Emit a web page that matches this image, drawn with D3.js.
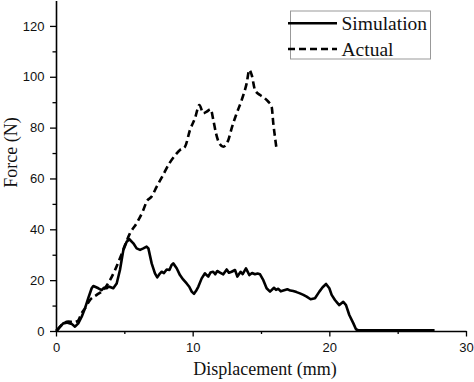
<!DOCTYPE html>
<html>
<head>
<meta charset="utf-8">
<script src="https://cdn.jsdelivr.net/npm/d3@7"></script>
<style>
  html, body { margin: 0; padding: 0; background: #fff; }
  svg { display: block; }
</style>
</head>
<body>
<svg id="chart" width="474" height="382"></svg>
<script>
// ---- data ----
const simX = [0,0.3,0.53,0.78,1.15,1.39,1.63,1.88,2.12,2.36,2.61,2.73,2.9,3.1,3.34,3.5,3.71,3.85,4.0,4.19,4.44,4.68,4.93,5.17,5.37,5.66,5.9,6.15,6.39,6.63,6.76,7.0,7.24,7.41,7.6,7.73,7.9,8.1,8.3,8.46,8.58,8.83,9.07,9.3,9.56,9.75,9.93,10.1,10.25,10.41,10.66,10.9,11.02,11.14,11.3,11.5,11.65,11.8,12.0,12.24,12.49,12.65,12.85,13.1,13.27,13.51,13.66,13.9,14.15,14.35,14.56,14.75,14.93,15.17,15.41,15.66,15.95,16.1,16.27,16.45,16.63,16.93,17.15,17.36,17.6,17.85,18.1,18.34,18.63,18.95,19.27,19.51,19.76,20.0,20.17,20.41,20.6,20.73,21.02,21.22,21.46,21.76,21.95,22.1,27.7];
const simY = [0,1.7,3.0,3.3,2.8,1.7,3.0,5.6,8.9,12.9,16.8,17.7,17.3,16.8,16.1,17.0,16.8,17.5,17.2,16.8,18.7,24,31.9,35.1,36.1,34.5,32.5,31.9,32.5,33.2,32.5,26.6,22.7,21.1,22.6,23.3,22.8,24.2,24.0,26,26.6,24.7,22,20.3,18.7,17.4,15.5,14.6,15.8,17.4,20.7,22.7,22.0,21.4,23.0,23.3,22.3,23.6,23,22.3,24.2,22.9,23.3,24,21.4,23.3,22.4,24.6,22,22.8,22.3,22.6,22.3,20,16.8,15.5,17,16.2,16.6,15.6,15.9,16.4,15.9,15.7,15.3,14.8,14.2,13.5,12.5,12.9,15.5,17.2,18.5,16.8,14.2,12.2,11.0,10.2,11.5,10.2,6.3,3,0.7,0.3,0.3];

const actX = [0.1,0.5,0.9,1.3,1.6,1.88,2.12,2.49,2.98,3.46,3.95,4.32,4.68,5.05,5.41,5.9,6.39,6.63,7.0,7.37,7.8,8.3,8.7,9.07,9.44,9.8,10.17,10.49,10.78,11.03,11.32,11.51,11.71,11.95,12.24,12.61,12.85,13.22,13.59,13.95,14.15,14.32,14.56,14.93,15.29,15.53,15.78,15.9,16.02,16.15];
const actY = [0.3,2.8,3.7,3.5,4.0,7.0,8.9,12.2,14.2,16.1,20,24,28.6,33.8,38.4,42.4,47.6,50.9,52.9,56.8,61,66,69,71.2,72.5,79,83.7,88.9,85.6,86.3,87.2,83,77.7,73.8,72.5,75.1,79.7,85.6,90.9,97.4,102.7,100.7,94.8,92.8,91.5,90.2,88.2,81.7,76.4,71.2];

const xTicks = [0, 10, 20, 30];
const xMinor = [5, 15, 25];
const yTicks = [0, 20, 40, 60, 80, 100, 120];
const yMinor = [10, 30, 50, 70, 90, 110];
const seriesNames = ["Simulation", "Actual"];
const xLabel = "Displacement (mm)";
const yLabel = "Force (N)";

// ---- layout ----
const svg = d3.select("#chart");
const x = d3.scaleLinear().domain([0, 30]).range([56, 466]);
const y = d3.scaleLinear().domain([0, 130]).range([331, 0.5]);

const tickFont = "'Liberation Sans', Arial, sans-serif";
const serif = "'Liberation Serif', 'Times New Roman', serif";

// minor ticks
svg.append("g").attr("transform", `translate(0,${y(0)})`)
  .call(d3.axisBottom(x).tickValues(xMinor).tickSize(3).tickFormat(""))
  .call(g => g.select(".domain").remove())
  .selectAll("line").attr("stroke", "#000").attr("stroke-width", 1.3);
svg.append("g").attr("transform", `translate(${x(0)},0)`)
  .call(d3.axisLeft(y).tickValues(yMinor).tickSize(3.5).tickFormat(""))
  .call(g => g.select(".domain").remove())
  .selectAll("line").attr("stroke", "#000").attr("stroke-width", 1.3);

// x axis
const gx = svg.append("g").attr("transform", `translate(0,${y(0)})`)
  .call(d3.axisBottom(x).tickValues(xTicks).tickSize(5.5).tickSizeOuter(0).tickPadding(6.5).tickFormat(d3.format("d")));
gx.select(".domain").attr("stroke", "#000").attr("stroke-width", 1.6);
gx.selectAll(".tick line").attr("stroke", "#000").attr("stroke-width", 1.3);
gx.selectAll("text").attr("font-family", tickFont).attr("font-size", 13).attr("fill", "#111");

// y axis
const gy = svg.append("g").attr("transform", `translate(${x(0)},0)`)
  .call(d3.axisLeft(y).tickValues(yTicks).tickSize(6).tickSizeOuter(0).tickPadding(5.5).tickFormat(d3.format("d")));
gy.select(".domain").attr("stroke", "#000").attr("stroke-width", 1.6);
gy.selectAll(".tick line").attr("stroke", "#000").attr("stroke-width", 1.3);
gy.selectAll("text").attr("font-family", tickFont).attr("font-size", 13).attr("fill", "#111");

// axis labels
svg.append("text").attr("x", 265).attr("y", 375).attr("text-anchor", "middle")
  .attr("font-family", serif).attr("font-size", 18).attr("fill", "#111").text(xLabel);
svg.append("text").attr("transform", "translate(16.5,152.5) rotate(-90)").attr("text-anchor", "middle")
  .attr("font-family", serif).attr("font-size", 18).attr("fill", "#111").text(yLabel);

// lines
const simData = simX.map((d, i) => [d, simY[i]]);
const actData = actX.map((d, i) => [d, actY[i]]);
const line = d3.line().x(d => x(d[0])).y(d => y(d[1]));
const lineSmooth = d3.line().x(d => x(d[0])).y(d => y(d[1])).curve(d3.curveMonotoneX);

svg.append("path").datum(actData).attr("d", lineSmooth)
  .attr("fill", "none").attr("stroke", "#000").attr("stroke-width", 2.6)
  .attr("stroke-dasharray", "7,4");
svg.append("path").datum(simData).attr("d", line)
  .attr("fill", "none").attr("stroke", "#000").attr("stroke-width", 2.6)
  .attr("stroke-linejoin", "round");

// legend
const lg = svg.append("g");
lg.append("rect").attr("x", 290.5).attr("y", 11).attr("width", 140).attr("height", 48)
  .attr("fill", "none").attr("stroke", "#999").attr("stroke-width", 1);
const legendRows = [{name: seriesNames[0], y: 23.3, dash: null}, {name: seriesNames[1], y: 49, dash: "7,4"}];
legendRows.forEach(r => {
  const l = lg.append("line").attr("x1", 288).attr("x2", 337).attr("y1", r.y).attr("y2", r.y)
    .attr("stroke", "#000").attr("stroke-width", 2.6);
  if (r.dash) l.attr("stroke-dasharray", r.dash);
  lg.append("text").attr("x", 341.5).attr("y", r.y + 6.7).attr("font-family", serif)
    .attr("font-size", 19.5).attr("fill", "#111").text(r.name);
});
</script>
</body>
</html>
